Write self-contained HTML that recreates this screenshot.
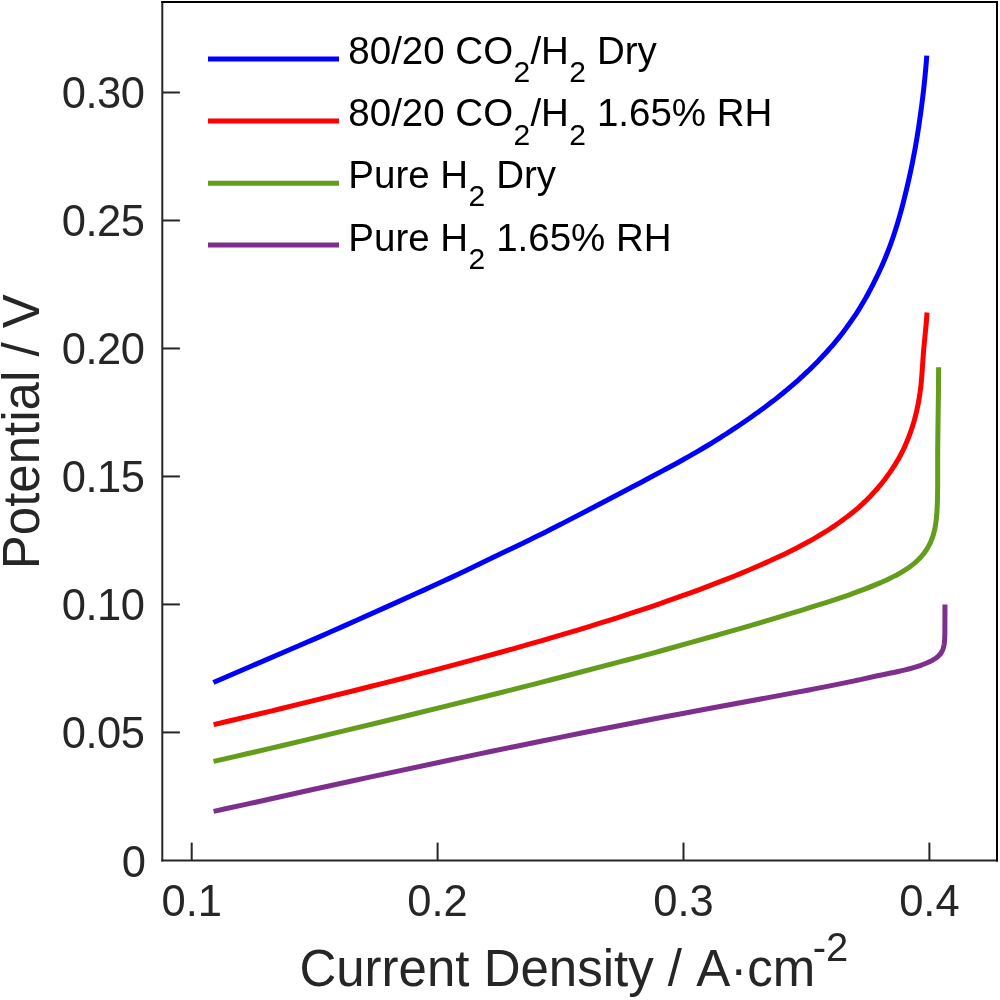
<!DOCTYPE html>
<html><head><meta charset="utf-8"><style>
html,body{margin:0;padding:0;background:#fff;width:1000px;height:1000px;overflow:hidden}
svg{display:block}
text{font-family:"Liberation Sans",Arial,Helvetica,sans-serif;font-kerning:none;}
.tick text{font-size:43.5px;fill:#262626}
.leg{font-size:38.5px;fill:#000}
.lab{font-size:51px;fill:#262626}
</style></head><body>
<svg width="1000" height="1000" viewBox="0 0 1000 1000">
<rect width="1000" height="1000" fill="#fff"/>
<path d="M213.38,682.49 C222.82,678.36 232.27,674.26 241.74,670.19 C260.16,662.27 278.63,654.46 297.03,646.52 C307.23,642.12 317.40,637.69 327.56,633.22 C332.54,631.04 337.51,628.84 342.48,626.63 C347.24,624.52 352.00,622.39 356.76,620.26 C376.39,611.46 396.02,602.62 415.64,593.79 C420.60,591.56 425.55,589.32 430.50,587.07 C435.24,584.90 439.97,582.73 444.70,580.53 C449.01,578.52 453.31,576.50 457.61,574.45 C468.86,569.10 480.05,563.63 491.28,558.23 C502.11,553.03 512.95,547.88 523.77,542.67 C527.44,540.89 531.11,539.12 534.77,537.32 C537.92,535.78 541.07,534.23 544.22,532.66 C547.26,531.15 550.30,529.63 553.33,528.09 C556.56,526.45 559.79,524.80 563.01,523.14 C582.64,513.02 602.23,502.81 621.78,492.54 C628.00,489.27 634.20,485.99 640.40,482.69 C648.40,478.44 656.40,474.17 664.38,469.89 C668.67,467.58 672.96,465.27 677.23,462.93 C680.70,461.02 684.17,459.10 687.62,457.15 C690.98,455.26 694.32,453.34 697.64,451.40 C700.97,449.46 704.28,447.49 707.57,445.50 C709.71,444.21 711.83,442.91 713.95,441.60 C715.98,440.35 717.99,439.09 720.01,437.82 C722.02,436.55 724.02,435.27 726.02,433.98 C728.12,432.64 730.21,431.28 732.29,429.91 C734.37,428.54 736.45,427.16 738.52,425.77 C740.49,424.45 742.46,423.11 744.42,421.77 C746.38,420.42 748.34,419.07 750.29,417.70 C752.24,416.34 754.18,414.96 756.11,413.58 C757.95,412.26 759.79,410.93 761.62,409.60 C763.35,408.32 765.08,407.04 766.80,405.75 C768.53,404.46 770.24,403.16 771.95,401.85 C773.56,400.61 775.17,399.36 776.77,398.09 C778.38,396.83 779.97,395.56 781.55,394.28 C783.14,392.99 784.71,391.70 786.28,390.40 C787.76,389.17 789.23,387.93 790.70,386.67 C792.25,385.35 793.79,384.02 795.32,382.67 C796.60,381.55 797.87,380.42 799.13,379.28 C800.48,378.07 801.82,376.85 803.15,375.62 C804.48,374.39 805.81,373.16 807.12,371.91 C808.35,370.74 809.58,369.56 810.80,368.38 C812.02,367.20 813.23,366.00 814.43,364.80 C815.63,363.60 816.83,362.39 818.01,361.18 C819.20,359.96 820.37,358.74 821.54,357.50 C822.63,356.35 823.71,355.19 824.79,354.02 C825.86,352.86 826.93,351.68 827.98,350.50 C829.04,349.32 830.09,348.13 831.13,346.93 C832.17,345.73 833.20,344.53 834.22,343.31 C835.24,342.10 836.25,340.88 837.25,339.65 C838.25,338.42 839.24,337.18 840.22,335.93 C841.20,334.69 842.17,333.43 843.13,332.17 C844.02,331.00 844.91,329.82 845.78,328.64 C846.72,327.36 847.65,326.08 848.57,324.78 C850.55,322.02 852.50,319.24 854.40,316.42 C855.16,315.30 855.92,314.16 856.66,313.03 C857.40,311.89 858.14,310.74 858.86,309.59 C859.64,308.35 860.42,307.09 861.18,305.83 C861.94,304.57 862.69,303.31 863.43,302.04 C864.23,300.66 865.02,299.29 865.79,297.90 C866.57,296.52 867.33,295.13 868.09,293.74 C868.96,292.15 869.81,290.55 870.65,288.94 C871.54,287.24 872.43,285.53 873.30,283.81 C874.17,282.09 875.03,280.37 875.88,278.64 C876.67,277.01 877.46,275.38 878.24,273.74 C879.01,272.10 879.78,270.46 880.53,268.81 C881.23,267.27 881.93,265.72 882.61,264.16 C883.29,262.60 883.96,261.04 884.62,259.48 C885.28,257.91 885.93,256.34 886.56,254.76 C887.15,253.29 887.73,251.82 888.30,250.34 C888.91,248.75 889.51,247.16 890.10,245.57 C890.68,243.97 891.26,242.37 891.82,240.77 C892.39,239.17 892.94,237.56 893.48,235.95 C894.06,234.23 894.63,232.51 895.18,230.79 C895.74,229.06 896.28,227.33 896.82,225.60 C897.35,223.87 897.87,222.13 898.39,220.40 C898.90,218.66 899.40,216.92 899.89,215.17 C900.44,213.21 900.98,211.24 901.51,209.27 C902.04,207.31 902.56,205.33 903.07,203.36 C904.20,198.97 905.28,194.57 906.34,190.17 C907.41,185.65 908.46,181.13 909.46,176.59 C909.95,174.38 910.43,172.17 910.90,169.95 C911.34,167.84 911.78,165.74 912.21,163.63 C913.08,159.30 913.92,154.96 914.72,150.61 C915.50,146.38 916.24,142.14 916.95,137.90 C917.64,133.76 918.29,129.62 918.91,125.48 C919.60,120.89 920.24,116.29 920.86,111.68 C921.54,106.63 922.20,101.58 922.81,96.52 C923.35,92.13 923.85,87.75 924.31,83.35 C924.79,78.85 925.22,74.34 925.62,69.82 C926.04,65.09 926.43,60.34 926.78,55.60" fill="none" stroke="#0000FF" stroke-width="5" stroke-linejoin="round" stroke-linecap="butt"/>
<path d="M213.61,724.62 C220.91,722.95 228.20,721.25 235.49,719.54 C242.88,717.81 250.26,716.05 257.64,714.28 C265.60,712.37 273.55,710.44 281.50,708.49 C292.17,705.89 302.84,703.27 313.50,700.64 C327.55,697.17 341.60,693.69 355.65,690.20 C364.76,687.94 373.86,685.67 382.96,683.37 C390.71,681.42 398.45,679.45 406.18,677.46 C414.30,675.37 422.42,673.25 430.53,671.13 C438.74,668.97 446.94,666.80 455.14,664.61 C463.14,662.48 471.14,660.32 479.14,658.15 C486.65,656.11 494.16,654.05 501.67,651.97 C508.88,649.97 516.10,647.96 523.30,645.92 C529.83,644.07 536.36,642.21 542.88,640.33 C549.02,638.55 555.15,636.76 561.28,634.94 C567.50,633.10 573.72,631.24 579.93,629.35 C586.33,627.41 592.72,625.45 599.11,623.47 C605.11,621.60 611.12,619.72 617.11,617.81 C622.63,616.06 628.14,614.28 633.64,612.48 C638.86,610.77 644.07,609.04 649.27,607.29 C654.48,605.53 659.67,603.75 664.86,601.95 C670.51,599.98 676.16,597.99 681.80,595.97 C687.25,594.02 692.70,592.05 698.13,590.04 C703.09,588.21 708.05,586.35 712.99,584.46 C717.56,582.72 722.12,580.95 726.67,579.15 C731.03,577.42 735.38,575.66 739.72,573.88 C743.97,572.13 748.20,570.35 752.42,568.54 C756.55,566.78 760.67,564.98 764.77,563.15 C768.69,561.40 772.60,559.62 776.49,557.81 C780.11,556.12 783.71,554.40 787.30,552.65 C790.62,551.03 793.92,549.37 797.21,547.68 C800.31,546.08 803.40,544.45 806.47,542.78 C807.96,541.97 809.45,541.15 810.93,540.32 C812.41,539.49 813.89,538.66 815.36,537.81 C817.95,536.31 820.52,534.78 823.08,533.21 C825.46,531.75 827.82,530.26 830.17,528.73 C831.34,527.97 832.50,527.20 833.66,526.42 C834.82,525.64 835.98,524.85 837.13,524.06 C838.19,523.32 839.25,522.57 840.31,521.81 C841.45,521.00 842.58,520.18 843.70,519.34 C844.90,518.45 846.10,517.55 847.28,516.64 C848.63,515.60 849.96,514.55 851.30,513.50 C852.24,512.76 853.17,512.01 854.10,511.25 C854.95,510.55 855.79,509.85 856.63,509.14 C857.54,508.37 858.45,507.58 859.34,506.79 C860.24,506.00 861.13,505.20 862.02,504.39 C862.90,503.57 863.77,502.76 864.64,501.93 C865.50,501.10 866.36,500.26 867.21,499.42 C868.13,498.50 869.04,497.58 869.94,496.65 C870.85,495.71 871.74,494.77 872.62,493.82 C873.50,492.87 874.37,491.91 875.24,490.94 C876.10,489.97 876.96,488.99 877.80,488.01 C878.65,487.02 879.48,486.03 880.31,485.03 C881.13,484.03 881.95,483.02 882.76,482.00 C883.56,480.98 884.36,479.96 885.15,478.93 C885.93,477.90 886.71,476.86 887.48,475.81 C888.24,474.76 889.00,473.71 889.74,472.64 C890.43,471.66 891.11,470.67 891.78,469.68 C892.44,468.68 893.10,467.68 893.75,466.67 C894.45,465.58 895.14,464.48 895.82,463.37 C896.39,462.44 896.95,461.49 897.50,460.55 C898.11,459.51 898.70,458.47 899.28,457.42 C899.86,456.37 900.43,455.32 900.98,454.26 C901.54,453.19 902.08,452.13 902.61,451.05 C903.10,450.07 903.57,449.08 904.04,448.08 C904.46,447.18 904.88,446.27 905.29,445.36 C905.74,444.36 906.17,443.35 906.60,442.34 C907.03,441.33 907.45,440.32 907.86,439.30 C908.27,438.28 908.67,437.25 909.06,436.23 C909.45,435.20 909.83,434.17 910.20,433.14 C910.94,431.07 911.65,428.99 912.31,426.90 C912.65,425.85 912.97,424.80 913.29,423.75 C913.63,422.60 913.97,421.45 914.29,420.30 C914.89,418.19 915.44,416.06 915.97,413.93 C916.51,411.70 917.02,409.46 917.49,407.21 C917.96,404.96 918.39,402.71 918.79,400.45 C919.07,398.87 919.33,397.30 919.57,395.72 C919.82,394.14 920.04,392.56 920.26,390.98 C920.48,389.29 920.69,387.61 920.88,385.92 C921.07,384.24 921.24,382.55 921.40,380.86 C921.61,378.57 921.80,376.28 921.96,373.99 C922.31,369.21 922.60,364.43 922.94,359.65 C923.12,357.06 923.31,354.47 923.53,351.89 C923.75,349.10 924.00,346.32 924.27,343.53 C924.87,337.17 925.56,330.82 926.12,324.46 C926.30,322.47 926.46,320.48 926.61,318.49 C926.76,316.49 926.89,314.50 927.01,312.51" fill="none" stroke="#FF0000" stroke-width="5" stroke-linejoin="round" stroke-linecap="butt"/>
<path d="M213.56,761.34 C220.24,759.86 226.92,758.36 233.59,756.84 C240.66,755.24 247.74,753.61 254.81,751.98 C262.68,750.15 270.56,748.32 278.43,746.47 C287.72,744.28 297.00,742.09 306.28,739.89 C332.60,733.63 358.92,727.35 385.22,721.00 C394.09,718.86 402.95,716.70 411.81,714.54 C423.19,711.75 434.57,708.96 445.94,706.16 C463.36,701.87 480.77,697.56 498.16,693.20 C506.21,691.19 514.25,689.17 522.29,687.13 C529.43,685.33 536.56,683.51 543.69,681.68 C551.02,679.80 558.35,677.91 565.67,676.01 C583.33,671.42 600.99,666.83 618.64,662.20 C624.46,660.68 630.27,659.15 636.08,657.60 C641.09,656.26 646.09,654.92 651.09,653.55 C656.89,651.97 662.69,650.36 668.48,648.74 C684.55,644.25 700.63,639.75 716.69,635.23 C722.08,633.71 727.47,632.18 732.85,630.64 C737.83,629.22 742.81,627.78 747.79,626.33 C754.56,624.36 761.32,622.36 768.07,620.35 C775.42,618.16 782.77,615.95 790.11,613.72 C796.36,611.82 802.60,609.90 808.84,607.97 C814.29,606.27 819.72,604.56 825.15,602.82 C829.50,601.43 833.84,600.02 838.16,598.58 C841.90,597.34 845.63,596.07 849.35,594.78 C852.19,593.79 855.02,592.75 857.83,591.71 C860.55,590.70 863.27,589.66 865.97,588.61 C869.06,587.40 872.14,586.16 875.20,584.89 C876.64,584.30 878.07,583.69 879.50,583.08 C880.93,582.47 882.36,581.84 883.78,581.21 C885.10,580.62 886.42,580.02 887.74,579.41 C888.87,578.88 889.99,578.35 891.11,577.80 C892.23,577.26 893.34,576.71 894.45,576.14 C895.37,575.67 896.29,575.19 897.20,574.69 C898.57,573.95 899.92,573.18 901.26,572.39 C902.60,571.60 903.92,570.79 905.23,569.94 C906.45,569.15 907.65,568.34 908.83,567.50 C910.02,566.66 911.18,565.79 912.32,564.89 C913.38,564.06 914.41,563.19 915.43,562.31 C916.36,561.48 917.28,560.64 918.17,559.77 C919.06,558.90 919.92,558.01 920.76,557.09 C921.60,556.17 922.41,555.23 923.19,554.26 C923.58,553.78 923.96,553.28 924.34,552.79 C924.71,552.29 925.08,551.79 925.44,551.28 C926.09,550.34 926.72,549.39 927.31,548.42 C927.91,547.44 928.47,546.45 929.00,545.44 C929.53,544.44 930.03,543.41 930.50,542.37 C930.97,541.33 931.41,540.28 931.81,539.21 C932.25,538.05 932.66,536.87 933.03,535.68 C933.40,534.49 933.73,533.30 934.04,532.09 C934.37,530.78 934.66,529.47 934.92,528.15 C935.12,527.13 935.31,526.11 935.48,525.08 C935.64,524.06 935.79,523.04 935.93,522.01 C936.08,520.88 936.22,519.75 936.34,518.61 C936.46,517.48 936.57,516.34 936.66,515.21 C936.77,513.97 936.86,512.73 936.94,511.49 C937.03,510.14 937.11,508.79 937.17,507.45 C937.25,505.90 937.31,504.34 937.36,502.79 C937.42,501.13 937.47,499.47 937.51,497.81 C937.55,495.74 937.59,493.67 937.62,491.59 C937.65,488.90 937.67,486.20 937.68,483.51 C937.72,474.90 937.65,466.30 937.66,457.70 C937.66,454.07 937.69,450.44 937.72,446.81 C937.87,429.08 938.23,411.36 938.43,393.63 C938.53,384.82 938.59,376.01 938.62,367.20" fill="none" stroke="#649C1C" stroke-width="5" stroke-linejoin="round" stroke-linecap="butt"/>
<path d="M213.64,811.33 C224.71,808.98 235.76,806.58 246.82,804.16 C269.18,799.25 291.51,794.20 313.87,789.28 C327.34,786.31 340.81,783.37 354.29,780.47 C386.61,773.51 418.94,766.60 451.29,759.76 C461.84,757.53 472.39,755.31 482.95,753.10 C492.90,751.03 502.85,748.97 512.81,746.93 C523.38,744.76 533.95,742.61 544.52,740.49 C556.48,738.08 568.44,735.69 580.41,733.32 C593.24,730.77 606.07,728.24 618.91,725.73 C630.80,723.40 642.68,721.09 654.58,718.80 C663.08,717.16 671.59,715.53 680.10,713.92 C688.44,712.33 696.78,710.77 705.12,709.21 C733.62,703.89 762.16,698.75 790.66,693.40 C796.74,692.25 802.82,691.10 808.89,689.93 C814.62,688.83 820.35,687.71 826.07,686.58 C834.31,684.96 842.55,683.35 850.77,681.63 C853.28,681.11 855.79,680.57 858.29,680.02 C864.68,678.61 871.05,677.11 877.45,675.74 C884.36,674.27 891.32,673.00 898.23,671.51 C900.57,671.01 902.89,670.48 905.21,669.90 C907.44,669.35 909.67,668.77 911.88,668.14 C912.98,667.83 914.09,667.51 915.19,667.17 C916.20,666.86 917.21,666.55 918.22,666.22 C919.14,665.91 920.07,665.60 920.98,665.28 C921.90,664.96 922.81,664.62 923.72,664.28 C924.55,663.96 925.37,663.63 926.19,663.29 C926.92,662.99 927.65,662.67 928.37,662.34 C929.10,662.01 929.82,661.67 930.53,661.31 C931.16,660.99 931.78,660.66 932.40,660.32 C933.02,659.97 933.63,659.61 934.23,659.24 C934.75,658.91 935.26,658.56 935.77,658.20 C936.20,657.89 936.62,657.57 937.03,657.24 C937.52,656.85 937.98,656.45 938.43,656.02 C938.75,655.71 939.06,655.40 939.36,655.08 C939.72,654.69 940.07,654.28 940.39,653.86 C940.71,653.44 941.02,653.01 941.30,652.56 C941.59,652.11 941.85,651.65 942.09,651.18 C942.25,650.86 942.40,650.54 942.54,650.22 C942.71,649.81 942.88,649.40 943.02,648.98 C943.20,648.48 943.36,647.97 943.49,647.46 C943.61,647.04 943.71,646.60 943.81,646.17 C943.90,645.74 943.98,645.31 944.06,644.87 C944.14,644.35 944.22,643.82 944.29,643.30 C944.44,642.07 944.55,640.84 944.62,639.60 C944.71,638.28 944.76,636.95 944.79,635.63 C944.84,634.04 944.86,632.44 944.87,630.85 C944.96,622.10 944.91,613.35 944.96,604.60" fill="none" stroke="#7E2F8E" stroke-width="5" stroke-linejoin="round" stroke-linecap="butt"/>

<g class="tick">
<text x="191.7" y="916.2" text-anchor="middle">0.1</text>
<text x="437.6" y="916.2" text-anchor="middle">0.2</text>
<text x="683.5" y="916.2" text-anchor="middle">0.3</text>
<text x="929.4" y="916.2" text-anchor="middle">0.4</text>
<text x="145.5" y="876.70" text-anchor="end" letter-spacing="-0.5">0</text>
<text x="144.5" y="748.22" text-anchor="end" letter-spacing="-0.5">0.05</text>
<text x="144.5" y="620.23" text-anchor="end" letter-spacing="-0.5">0.10</text>
<text x="144.5" y="492.25" text-anchor="end" letter-spacing="-0.5">0.15</text>
<text x="144.5" y="364.27" text-anchor="end" letter-spacing="-0.5">0.20</text>
<text x="144.5" y="236.28" text-anchor="end" letter-spacing="-0.5">0.25</text>
<text x="144.5" y="108.30" text-anchor="end" letter-spacing="-0.5">0.30</text>

</g>
<line x1="191.7" y1="860.4" x2="191.7" y2="842.6" stroke="#262626" stroke-width="2"/>
<line x1="437.6" y1="860.4" x2="437.6" y2="842.6" stroke="#262626" stroke-width="2"/>
<line x1="683.5" y1="860.4" x2="683.5" y2="842.6" stroke="#262626" stroke-width="2"/>
<line x1="929.4" y1="860.4" x2="929.4" y2="842.6" stroke="#262626" stroke-width="2"/>
<line x1="162.3" y1="732.42" x2="179.9" y2="732.42" stroke="#262626" stroke-width="2"/>
<line x1="162.3" y1="604.43" x2="179.9" y2="604.43" stroke="#262626" stroke-width="2"/>
<line x1="162.3" y1="476.45" x2="179.9" y2="476.45" stroke="#262626" stroke-width="2"/>
<line x1="162.3" y1="348.47" x2="179.9" y2="348.47" stroke="#262626" stroke-width="2"/>
<line x1="162.3" y1="220.48" x2="179.9" y2="220.48" stroke="#262626" stroke-width="2"/>
<line x1="162.3" y1="92.50" x2="179.9" y2="92.50" stroke="#262626" stroke-width="2"/>

<line x1="162.3" y1="861.4" x2="162.3" y2="1.1" stroke="#262626" stroke-width="2"/>
<line x1="161.3" y1="860.4" x2="998" y2="860.4" stroke="#262626" stroke-width="2"/>
<line x1="161.3" y1="2.1" x2="998" y2="2.1" stroke="#000" stroke-width="2"/>
<line x1="997" y1="1.1" x2="997" y2="861.4" stroke="#000" stroke-width="2"/>
<line x1="208" y1="59.0" x2="339" y2="59.0" stroke="#0000FF" stroke-width="5"/>
<text class="leg"><tspan x="348.33" y="63.50">80/20&#160;CO</tspan><tspan x="513.52" y="82.20" font-size="30">2</tspan><tspan x="530.40" y="63.50">/H</tspan><tspan x="569.30" y="82.20" font-size="30">2</tspan><tspan x="586.19" y="63.50">&#160;Dry</tspan></text>
<line x1="208" y1="120.9" x2="339" y2="120.9" stroke="#FF0000" stroke-width="5"/>
<text class="leg"><tspan x="348.33" y="126.30">80/20&#160;CO</tspan><tspan x="513.52" y="145.00" font-size="30">2</tspan><tspan x="530.40" y="126.30">/H</tspan><tspan x="569.30" y="145.00" font-size="30">2</tspan><tspan x="586.19" y="126.30">&#160;1.65%&#160;RH</tspan></text>
<line x1="208" y1="183.35" x2="339" y2="183.35" stroke="#649C1C" stroke-width="5"/>
<text class="leg"><tspan x="348.33" y="187.60">Pure&#160;H</tspan><tspan x="468.55" y="206.30" font-size="30">2</tspan><tspan x="485.44" y="187.60">&#160;Dry</tspan></text>
<line x1="208" y1="245.1" x2="339" y2="245.1" stroke="#7E2F8E" stroke-width="5"/>
<text class="leg"><tspan x="348.33" y="250.50">Pure&#160;H</tspan><tspan x="468.55" y="269.20" font-size="30">2</tspan><tspan x="485.44" y="250.50">&#160;1.65%&#160;RH</tspan></text>

<text class="lab" x="299.41" y="985.6">Current Density / A·cm<tspan x="812.72" y="960.6" font-size="40">-2</tspan></text>
<text class="lab" transform="translate(38.9,569.18) rotate(-90)" x="0" y="0">Potential / V</text>
</svg>
</body></html>
